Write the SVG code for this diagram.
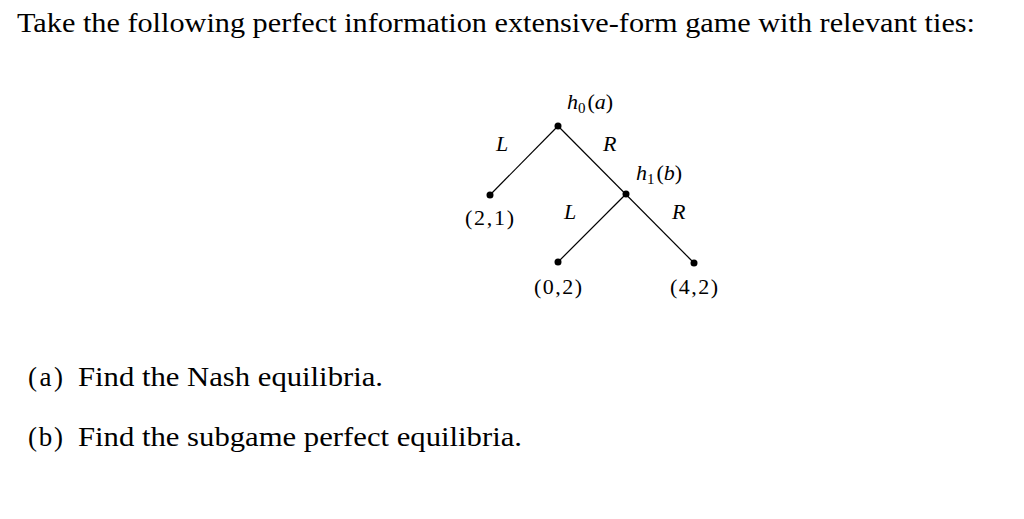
<svg xmlns="http://www.w3.org/2000/svg" width="1024" height="519" viewBox="0 0 1024 519">
<style>
text{font-family:"Liberation Serif","DejaVu Serif",serif;fill:#000}
.t{font-size:27px}
.l{font-size:22px}
.i{font-style:italic}
.e{stroke:#000;stroke-width:1.2;fill:none}
</style>
<rect width="1024" height="519" fill="#fff"/>
<text class="t" x="17" y="32" textLength="958" lengthAdjust="spacingAndGlyphs">Take the following perfect information extensive-form game with relevant ties:</text>
<g id="connectors">
<line class="e" x1="558" y1="126" x2="490" y2="195"/>
<line class="e" x1="558" y1="126" x2="694" y2="263"/>
<line class="e" x1="626" y1="194" x2="558" y2="262"/>
</g>
<g id="root"><circle cx="558" cy="126" r="3.5"/><text class="l" x="567" y="109"><tspan class="i">h</tspan><tspan font-size="15" dy="4">0</tspan><tspan dy="-4" dx="2">(</tspan><tspan class="i">a</tspan>)</text></g>
<g id="lblL1"><text class="l i" x="496" y="151">L</text></g>
<g id="lblR1"><text class="l i" x="603" y="151">R</text></g>
<g id="h1"><circle cx="626" cy="194" r="3.5"/><text class="l" x="636" y="180"><tspan class="i">h</tspan><tspan font-size="15" dy="4">1</tspan><tspan dy="-4" dx="2">(</tspan><tspan class="i">b</tspan>)</text></g>
<g id="leaf21"><circle cx="490" cy="195" r="3.5"/><text class="l" x="465" y="225" textLength="49">(2,1)</text></g>
<g id="lblL2"><text class="l i" x="564" y="219">L</text></g>
<g id="lblR2"><text class="l i" x="672" y="219">R</text></g>
<g id="leaf02"><circle cx="558" cy="262" r="3.5"/><text class="l" x="534" y="294" textLength="48">(0,2)</text></g>
<g id="leaf42"><circle cx="694" cy="263" r="3.5"/><text class="l" x="670" y="294" textLength="48">(4,2)</text></g>
<text class="t" x="28" y="386" textLength="35">(a)</text>
<text class="t" x="78" y="386" textLength="305" lengthAdjust="spacingAndGlyphs">Find the Nash equilibria.</text>
<text class="t" x="28" y="446" textLength="35">(b)</text>
<text class="t" x="78" y="446" textLength="444" lengthAdjust="spacingAndGlyphs">Find the subgame perfect equilibria.</text>
</svg>
